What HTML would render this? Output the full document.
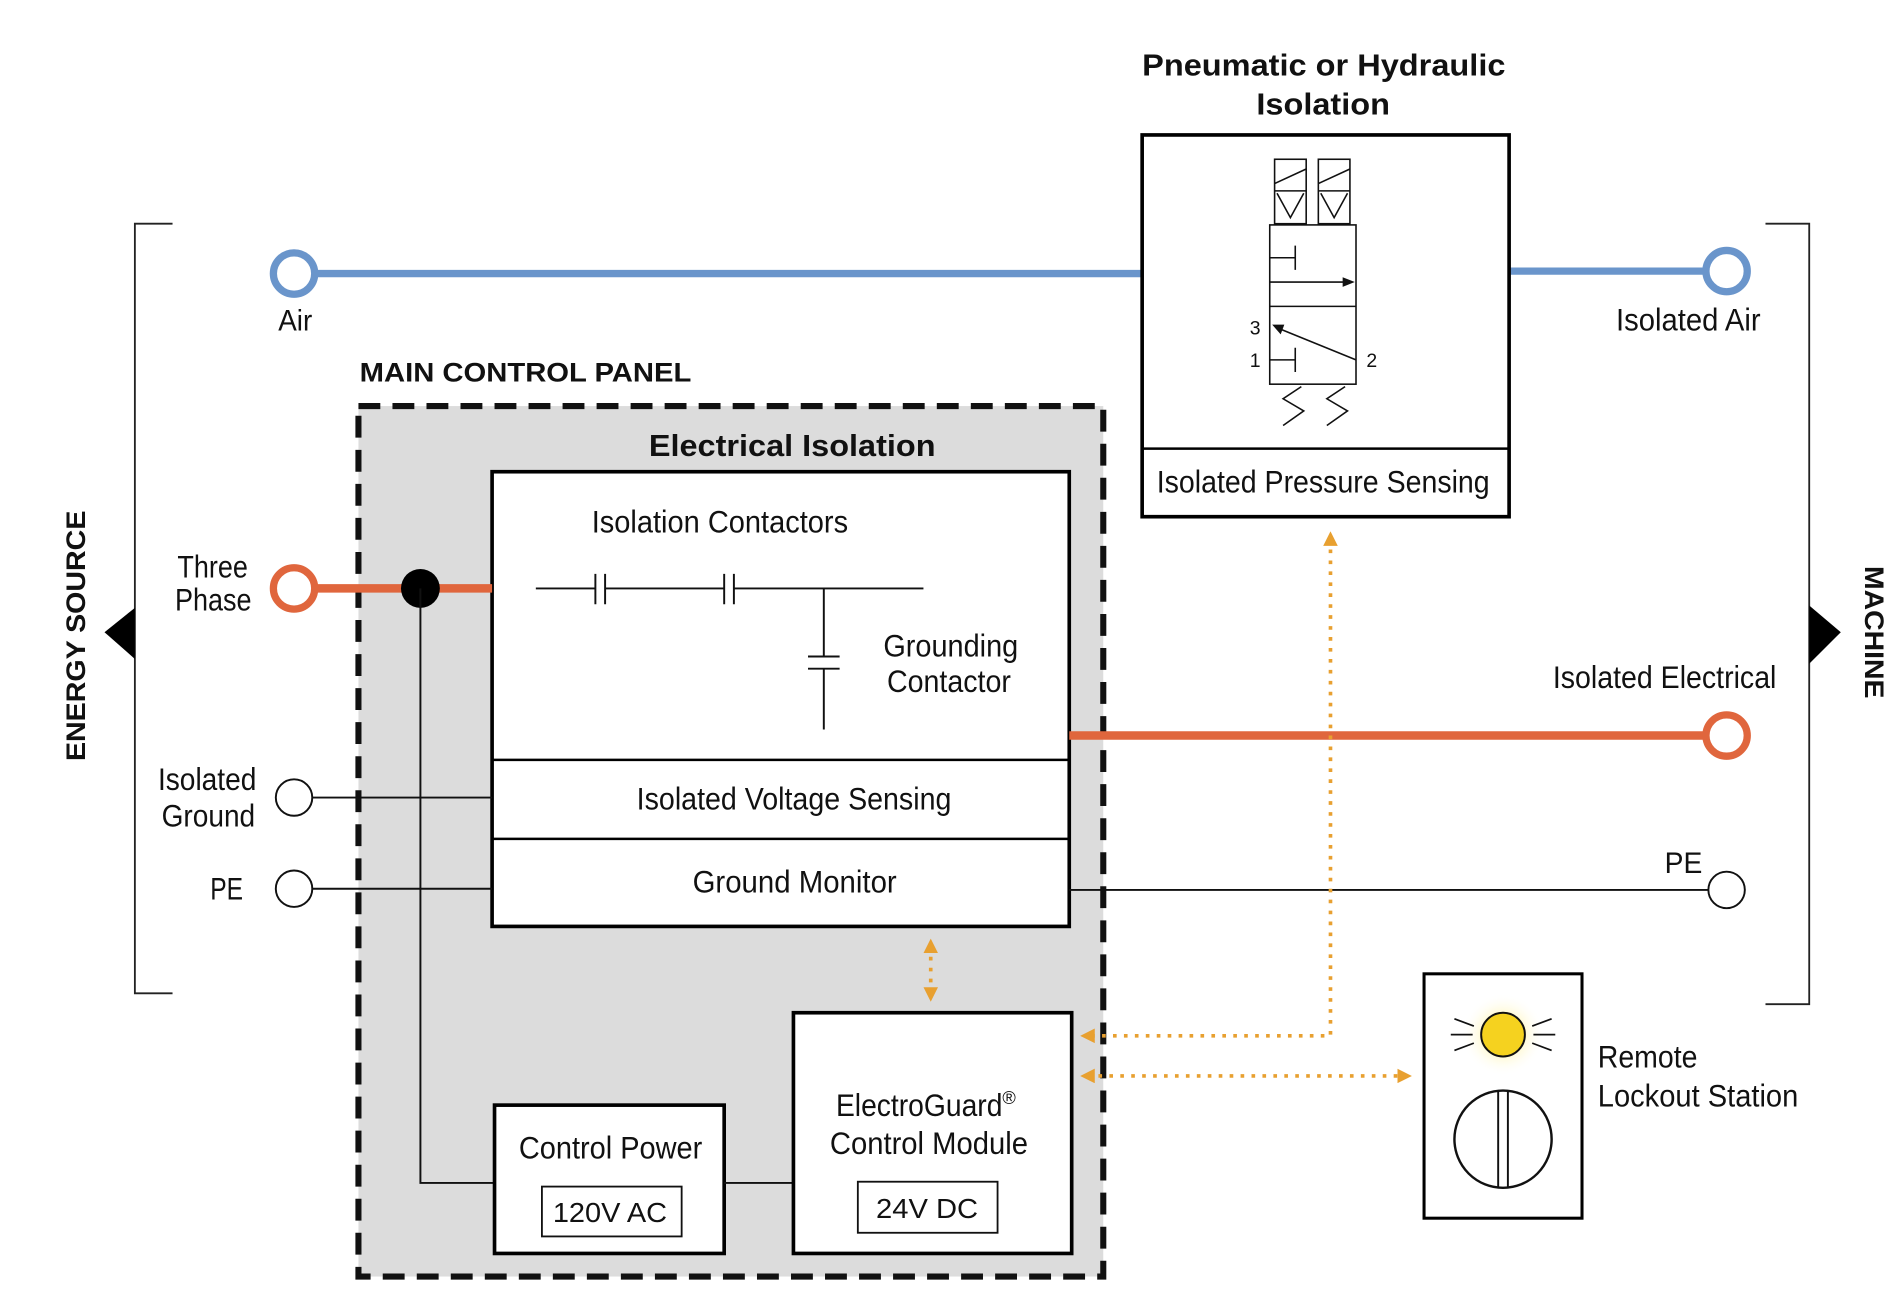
<!DOCTYPE html>
<html><head><meta charset="utf-8"><style>
html,body{margin:0;padding:0;background:#fff;}
svg{display:block;}
text{font-family:"Liberation Sans Narrow","Liberation Sans",sans-serif;fill:#111;}
.b{font-family:"Liberation Sans",sans-serif;font-weight:bold;}
</style></head><body>
<svg width="1904" height="1296" viewBox="0 0 1567 1066" preserveAspectRatio="none" xmlns="http://www.w3.org/2000/svg">
<defs>
<radialGradient id="glow"><stop offset="0" stop-color="#fff6a0"/><stop offset="0.5" stop-color="#fff8c8" stop-opacity="0.8"/><stop offset="1" stop-color="#fff" stop-opacity="0"/></radialGradient>
<marker id="ar" viewBox="0 0 10 10" refX="5" refY="5" markerWidth="4" markerHeight="4" orient="auto-start-reverse"><path d="M0,0L10,5L0,10z" fill="#e8a030"/></marker>
</defs>
<path d="M142,184H111V817H142" fill="none" stroke="#222" stroke-width="1.5"/>
<path d="M111,500L86,520L111,542z" fill="#000"/>
<text class="b" transform="translate(70,523) rotate(-90)" text-anchor="middle" font-size="22" textLength="206" lengthAdjust="spacingAndGlyphs">ENERGY SOURCE</text>
<path d="M1453,184H1489V826H1453" fill="none" stroke="#222" stroke-width="1.5"/>
<path d="M1489,498L1515,520L1489,546z" fill="#000"/>
<text class="b" transform="translate(1535,520) rotate(90)" text-anchor="middle" font-size="22" textLength="109" lengthAdjust="spacingAndGlyphs">MACHINE</text>

<line x1="258" y1="225" x2="940" y2="225" stroke="#6a95cb" stroke-width="6"/>
<circle cx="242" cy="225" r="17" fill="#fff" stroke="#6a95cb" stroke-width="6"/>
<line x1="1242" y1="223" x2="1404" y2="223" stroke="#6a95cb" stroke-width="6"/>
<circle cx="1421" cy="223" r="17" fill="#fff" stroke="#6a95cb" stroke-width="6"/>
<text x="229" y="272" font-size="24" textLength="28" lengthAdjust="spacingAndGlyphs">Air</text>
<text x="1330" y="272" font-size="26" textLength="119" lengthAdjust="spacingAndGlyphs">Isolated Air</text>

<text class="b" x="940" y="62" font-size="25" textLength="299" lengthAdjust="spacingAndGlyphs">Pneumatic or Hydraulic</text>
<text class="b" x="1034" y="94" font-size="25" textLength="110" lengthAdjust="spacingAndGlyphs">Isolation</text>
<rect x="940" y="111" width="302" height="314" fill="#fff" stroke="#000" stroke-width="3"/>
<line x1="940" y1="369" x2="1242" y2="369" stroke="#000" stroke-width="2"/>
<text x="952" y="405" font-size="26" textLength="274" lengthAdjust="spacingAndGlyphs">Isolated Pressure Sensing</text>
<g fill="none" stroke="#111" stroke-width="1.3">
<rect x="1049" y="131" width="26" height="53"/><rect x="1085" y="131" width="26" height="53"/>
<line x1="1049" y1="157" x2="1075" y2="157"/><line x1="1085" y1="157" x2="1111" y2="157"/>
<line x1="1049" y1="151" x2="1075" y2="139"/><line x1="1085" y1="151" x2="1111" y2="139"/>
<path d="M1051,159L1062,179L1073,159"/><path d="M1087,159L1098,179L1109,159"/>
<rect x="1045" y="185" width="71" height="131"/><line x1="1045" y1="252" x2="1116" y2="252"/>
<path d="M1045,212H1066M1066,202V222"/><line x1="1045" y1="232" x2="1108" y2="232"/>
<path d="M1045,296H1066M1066,286V306"/><line x1="1116" y1="296" x2="1052" y2="270"/>
<path d="M1071,318L1056,328L1073,338L1056,350M1107,318L1092,328L1109,338L1092,350"/>
</g>
<path d="M1115,232L1105,228L1105,236z" fill="#111"/>
<path d="M1047,267L1057,267L1054,275z" fill="#111"/>
<text x="1033" y="275" text-anchor="middle" font-size="16">3</text>
<text x="1033" y="302" text-anchor="middle" font-size="16">1</text>
<text x="1129" y="302" text-anchor="middle" font-size="16">2</text>

<text class="b" x="296" y="314" font-size="22" textLength="273" lengthAdjust="spacingAndGlyphs">MAIN CONTROL PANEL</text>
<rect x="295" y="334" width="613" height="716" fill="#dcdcdc" stroke="#111" stroke-width="5" stroke-dasharray="18,10"/>
<text class="b" x="534" y="375" font-size="25" textLength="236" lengthAdjust="spacingAndGlyphs">Electrical Isolation</text>
<rect x="405" y="388" width="475" height="374" fill="#fff" stroke="#000" stroke-width="3"/>
<line x1="405" y1="625" x2="880" y2="625" stroke="#000" stroke-width="2"/>
<line x1="405" y1="690" x2="880" y2="690" stroke="#000" stroke-width="2"/>
<text x="487" y="438" font-size="26" textLength="211" lengthAdjust="spacingAndGlyphs">Isolation Contactors</text>
<text x="727" y="540" font-size="26" textLength="111" lengthAdjust="spacingAndGlyphs">Grounding</text>
<text x="730" y="569" font-size="26" textLength="102" lengthAdjust="spacingAndGlyphs">Contactor</text>
<text x="524" y="666" font-size="26" textLength="259" lengthAdjust="spacingAndGlyphs">Isolated Voltage Sensing</text>
<text x="570" y="734" font-size="26" textLength="168" lengthAdjust="spacingAndGlyphs">Ground Monitor</text>
<g stroke="#111" stroke-width="1.6" fill="none">
<path d="M441,484H490M498,484H596M604,484H760"/>
<path d="M490,472V497M498,472V497M596,472V497M604,472V497"/>
<path d="M678,484V540M678,550V600M665,540H691M665,550H691"/>
</g>

<line x1="258" y1="484" x2="405" y2="484" stroke="#e0663d" stroke-width="7"/>
<circle cx="242" cy="484" r="17" fill="#fff" stroke="#e0663d" stroke-width="6"/>
<circle cx="346" cy="484" r="16" fill="#000"/>
<path d="M346,484V973H407" fill="none" stroke="#111" stroke-width="1.6"/>
<text x="146" y="475" font-size="26" textLength="58" lengthAdjust="spacingAndGlyphs">Three</text>
<text x="144" y="502" font-size="26" textLength="63" lengthAdjust="spacingAndGlyphs">Phase</text>
<line x1="880" y1="605" x2="1404" y2="605" stroke="#e0663d" stroke-width="7"/>
<circle cx="1421" cy="605" r="17" fill="#fff" stroke="#e0663d" stroke-width="6"/>
<text x="1278" y="566" font-size="26" textLength="184" lengthAdjust="spacingAndGlyphs">Isolated Electrical</text>

<circle cx="242" cy="656" r="15" fill="#fff" stroke="#111" stroke-width="1.6"/>
<line x1="257" y1="656" x2="405" y2="656" stroke="#111" stroke-width="1.6"/>
<circle cx="242" cy="731" r="15" fill="#fff" stroke="#111" stroke-width="1.6"/>
<line x1="257" y1="731" x2="405" y2="731" stroke="#111" stroke-width="1.6"/>
<text x="130" y="650" font-size="26" textLength="81" lengthAdjust="spacingAndGlyphs">Isolated</text>
<text x="133" y="680" font-size="26" textLength="77" lengthAdjust="spacingAndGlyphs">Ground</text>
<text x="173" y="740" font-size="26" textLength="27" lengthAdjust="spacingAndGlyphs">PE</text>
<line x1="880" y1="732" x2="1406" y2="732" stroke="#111" stroke-width="1.6"/>
<circle cx="1421" cy="732" r="15" fill="#fff" stroke="#111" stroke-width="1.6"/>
<text x="1370" y="718" font-size="24" textLength="31" lengthAdjust="spacingAndGlyphs">PE</text>

<rect x="407" y="909" width="189" height="122" fill="#fff" stroke="#000" stroke-width="3"/>
<text x="427" y="953" font-size="26" textLength="151" lengthAdjust="spacingAndGlyphs">Control Power</text>
<rect x="446" y="976" width="115" height="41" fill="#fff" stroke="#111" stroke-width="1.5"/>
<text x="455" y="1005" font-size="23" textLength="94" lengthAdjust="spacingAndGlyphs">120V AC</text>
<line x1="596" y1="973" x2="653" y2="973" stroke="#111" stroke-width="1.6"/>
<rect x="653" y="833" width="229" height="198" fill="#fff" stroke="#000" stroke-width="3"/>
<text x="688" y="918" font-size="26" textLength="137" lengthAdjust="spacingAndGlyphs">ElectroGuard</text>
<text x="825" y="908" font-size="15">®</text>
<text x="683" y="949" font-size="26" textLength="163" lengthAdjust="spacingAndGlyphs">Control Module</text>
<rect x="706" y="972" width="115" height="42" fill="#fff" stroke="#111" stroke-width="1.5"/>
<text x="721" y="1002" font-size="23" textLength="84" lengthAdjust="spacingAndGlyphs">24V DC</text>

<g stroke="#e8a030" stroke-width="3" stroke-dasharray="3,6" fill="none">
<line x1="766" y1="778" x2="766" y2="818" marker-start="url(#ar)" marker-end="url(#ar)"/>
<path d="M1095,443V852H895" marker-start="url(#ar)" marker-end="url(#ar)"/>
<line x1="895" y1="885" x2="1156" y2="885" marker-start="url(#ar)" marker-end="url(#ar)"/>
</g>

<rect x="1172" y="801" width="130" height="201" fill="#fff" stroke="#000" stroke-width="2.5"/>
<circle cx="1237" cy="851" r="34" fill="url(#glow)"/>
<circle cx="1237" cy="851" r="18" fill="#f5d21f" stroke="#111" stroke-width="1.6"/>
<g stroke="#111" stroke-width="1.4">
<line x1="1194" y1="851" x2="1212" y2="851"/><line x1="1262" y1="851" x2="1280" y2="851"/>
<line x1="1197" y1="838" x2="1213" y2="844"/><line x1="1261" y1="844" x2="1277" y2="838"/>
<line x1="1197" y1="864" x2="1213" y2="858"/><line x1="1261" y1="858" x2="1277" y2="864"/>
</g>
<circle cx="1237" cy="937" r="40" fill="#fff" stroke="#111" stroke-width="2"/>
<line x1="1233" y1="898" x2="1233" y2="976" stroke="#111" stroke-width="1.6"/>
<line x1="1241" y1="898" x2="1241" y2="976" stroke="#111" stroke-width="1.6"/>
<text x="1315" y="878" font-size="26" textLength="82" lengthAdjust="spacingAndGlyphs">Remote</text>
<text x="1315" y="910" font-size="26" textLength="165" lengthAdjust="spacingAndGlyphs">Lockout Station</text>
</svg>
</body></html>
